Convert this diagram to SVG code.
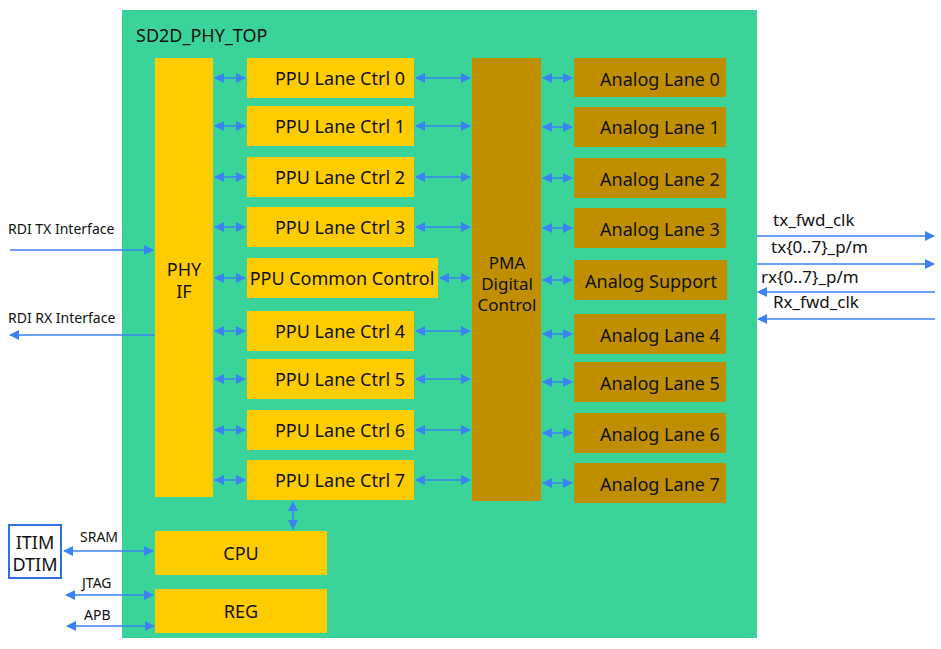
<svg xmlns="http://www.w3.org/2000/svg" width="941" height="649" viewBox="0 0 941 649">
<defs>
<marker id="a" viewBox="0 0 10 10" refX="9" refY="5" markerWidth="10" markerHeight="10" markerUnits="userSpaceOnUse" orient="auto-start-reverse"><path d="M0,0L10,5L0,10z" fill="#3b82f6"/></marker>
<style>
text{font-family:"Noto Sans","Open Sans",sans-serif;fill:#111}
.y{fill:#ffcc00}.b{fill:#bf8f00}
.t{font-size:18px;text-anchor:middle}
.p{font-size:17px;text-anchor:middle}
.s{font-size:14px}
.l{stroke:#3b82f6;stroke-width:1.5;fill:none}
.d{marker-start:url(#a);marker-end:url(#a)}
.e{marker-end:url(#a)}
</style>
</defs>
<rect x="122" y="10" width="635" height="628" fill="#3ad399"/>
<text x="136" y="42" style="font-size:18px">SD2D_PHY_TOP</text>
<g id="phyif"><rect class="y" x="155" y="58" width="58" height="439"/><text class="t" x="184" y="276">PHY</text><text class="t" x="184" y="298">IF</text></g>
<g id="ppu0"><rect class="y" x="247" y="58" width="167" height="40"/><text class="t" x="340" y="85">PPU Lane Ctrl 0</text></g>
<g id="ppu1"><rect class="y" x="247" y="106" width="167" height="40"/><text class="t" x="340" y="133">PPU Lane Ctrl 1</text></g>
<g id="ppu2"><rect class="y" x="247" y="157" width="167" height="40"/><text class="t" x="340" y="184">PPU Lane Ctrl 2</text></g>
<g id="ppu3"><rect class="y" x="247" y="207" width="167" height="40"/><text class="t" x="340" y="234">PPU Lane Ctrl 3</text></g>
<g id="ppuc"><rect class="y" x="247" y="258" width="191" height="40"/><text class="t" x="342" y="285">PPU Common Control</text></g>
<g id="ppu4"><rect class="y" x="247" y="311" width="167" height="40"/><text class="t" x="340" y="338">PPU Lane Ctrl 4</text></g>
<g id="ppu5"><rect class="y" x="247" y="359" width="167" height="40"/><text class="t" x="340" y="386">PPU Lane Ctrl 5</text></g>
<g id="ppu6"><rect class="y" x="247" y="410" width="167" height="40"/><text class="t" x="340" y="437">PPU Lane Ctrl 6</text></g>
<g id="ppu7"><rect class="y" x="247" y="460" width="167" height="40"/><text class="t" x="340" y="487">PPU Lane Ctrl 7</text></g>
<g id="pma"><rect class="b" x="472" y="58" width="69" height="443"/><text class="p" x="507" y="269">PMA</text><text class="p" x="507" y="290">Digital</text><text class="p" x="507" y="311">Control</text></g>
<g id="al0"><rect class="b" x="574" y="58" width="152" height="39"/><text class="t" x="660" y="86">Analog Lane 0</text></g>
<g id="al1"><rect class="b" x="574" y="107" width="152" height="40"/><text class="t" x="660" y="134">Analog Lane 1</text></g>
<g id="al2"><rect class="b" x="574" y="158" width="152" height="40"/><text class="t" x="660" y="186">Analog Lane 2</text></g>
<g id="al3"><rect class="b" x="574" y="208" width="152" height="40"/><text class="t" x="660" y="236">Analog Lane 3</text></g>
<g id="as"><rect class="b" x="574" y="260" width="153" height="40"/><text class="t" x="651" y="288">Analog Support</text></g>
<g id="al4"><rect class="b" x="574" y="314" width="152" height="40"/><text class="t" x="660" y="342">Analog Lane 4</text></g>
<g id="al5"><rect class="b" x="574" y="362" width="152" height="40"/><text class="t" x="660" y="390">Analog Lane 5</text></g>
<g id="al6"><rect class="b" x="574" y="413" width="152" height="40"/><text class="t" x="660" y="441">Analog Lane 6</text></g>
<g id="al7"><rect class="b" x="574" y="463" width="152" height="40"/><text class="t" x="660" y="491">Analog Lane 7</text></g>
<g id="cpu"><rect class="y" x="155" y="531" width="172" height="44"/><text class="t" x="241" y="560">CPU</text></g>
<g id="reg"><rect class="y" x="155" y="589" width="172" height="44"/><text class="t" x="241" y="618">REG</text></g>
<g id="itim"><rect x="9" y="525" width="52" height="53" fill="#fff" stroke="#2f6fdf" stroke-width="2"/><text class="t" x="35" y="549">ITIM</text><text class="t" x="35" y="571">DTIM</text></g>
<g id="connectors">
<path class="l d" d="M215,78H245"/><path class="l d" d="M215,126H245"/><path class="l d" d="M215,177H245"/><path class="l d" d="M215,227H245"/><path class="l d" d="M215,278H245"/><path class="l d" d="M215,331H245"/><path class="l d" d="M215,379H245"/><path class="l d" d="M215,430H245"/><path class="l d" d="M215,480H245"/>
<path class="l d" d="M416,78H470"/><path class="l d" d="M416,126H470"/><path class="l d" d="M416,177H470"/><path class="l d" d="M416,227H470"/><path class="l d" d="M440,278H470"/><path class="l d" d="M416,331H470"/><path class="l d" d="M416,379H470"/><path class="l d" d="M416,430H470"/><path class="l d" d="M416,480H470"/>
<path class="l d" d="M543,78H572"/><path class="l d" d="M543,127H572"/><path class="l d" d="M543,178H572"/><path class="l d" d="M543,228H572"/><path class="l d" d="M543,280H572"/><path class="l d" d="M543,334H572"/><path class="l d" d="M543,382H572"/><path class="l d" d="M543,433H572"/><path class="l d" d="M543,483H572"/>
<path class="l d" d="M293,502V529"/>
<path class="l e" d="M10,250H153"/>
<path class="l e" d="M155,335H10"/>
<path class="l e" d="M757,236H934"/><path class="l e" d="M757,264H934"/><path class="l e" d="M935,292H758"/><path class="l e" d="M935,319H758"/>
<path class="l d" d="M64,551H153"/><path class="l d" d="M66,595H153"/><path class="l d" d="M67,626H154"/>
</g>
<text class="s" x="8" y="234">RDI TX Interface</text>
<text class="s" x="8" y="323">RDI RX Interface</text>
<text x="773" y="226" style="font-size:17px">tx_fwd_clk</text>
<text x="771" y="253" style="font-size:17px">tx{0..7}_p/m</text>
<text x="761" y="283" style="font-size:17px">rx{0..7}_p/m</text>
<text x="773" y="308" style="font-size:17px">Rx_fwd_clk</text>
<text class="s" x="80" y="542">SRAM</text>
<text class="s" x="82" y="588">JTAG</text>
<text class="s" x="84" y="620">APB</text>
</svg>
